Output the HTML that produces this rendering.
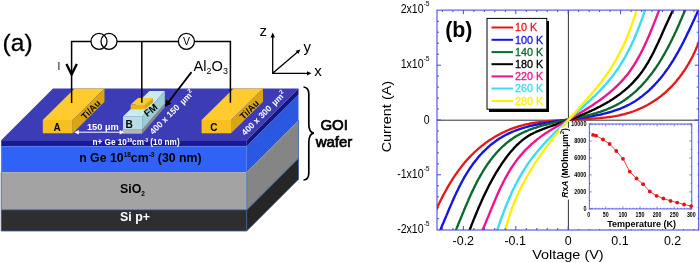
<!DOCTYPE html>
<html><head><meta charset="utf-8"><title>Figure</title>
<style>
html,body{margin:0;padding:0;background:#fff;}
svg{display:block;font-family:"Liberation Sans",Arial,sans-serif;}
</style></head><body>
<svg width="700" height="263" viewBox="0 0 700 263">
<rect width="700" height="263" fill="#fff"/>
<!-- ================= (a) device ================= -->
<g id="device">
<!-- top surface -->
<polygon points="1.2,140.2 246.7,140.2 298.5,88.5 53,88.5" fill="#3c3cb6"/>
<!-- front layers -->
<rect x="1.2" y="140.2" width="245.5" height="6.2" fill="#18189a"/>
<rect x="1.2" y="146.4" width="245.5" height="25.8" fill="#3062f8"/>
<rect x="1.2" y="172.2" width="245.5" height="37.8" fill="#a3a3a3"/>
<rect x="1.2" y="210" width="245.5" height="21" fill="#2e2e2e"/>
<!-- right side layers -->
<polygon points="246.7,140.2 298.5,88.5 298.5,94.7 246.7,146.4" fill="#141482"/>
<polygon points="246.7,146.4 298.5,94.7 298.5,120.5 246.7,172.2" fill="#2a58e0"/>
<polygon points="246.7,172.2 298.5,120.5 298.5,158.3 246.7,210" fill="#858585"/>
<polygon points="246.7,210 298.5,158.3 298.5,179.3 246.7,231" fill="#262626"/>
<path d="M1.2,172.2V231H246.7L298.5,179.3V120.5" fill="none" stroke="#3560a8" stroke-width="0.8"/>
<path d="M246.7,172.2V231" fill="none" stroke="#3560a8" stroke-width="0.6"/>
<path d="M1.2,209.8H246.7L298.5,158.1" fill="none" stroke="#3a6ab0" stroke-width="0.9"/>

<!-- electrode A -->
<polygon points="42.8,120 72.7,120 104.5,88.5 74.6,88.5" fill="#ffcb2e"/>
<rect x="42.8" y="120" width="29.9" height="13.3" fill="#f7bf1f"/>
<polygon points="72.7,120 104.5,88.5 104.5,101.8 72.7,133.3" fill="#d9a416"/>
<!-- electrode C -->
<polygon points="201.6,120 231,120 263,88.5 233.6,88.5" fill="#ffcb2e"/>
<rect x="201.6" y="120" width="29.4" height="13.3" fill="#f7bf1f"/>
<polygon points="231,120 263,88.5 263,101.8 231,133.3" fill="#d9a416"/>
<!-- Al2O3 + FM block B -->
<rect x="122.2" y="129.6" width="20" height="4.1" fill="#b5b5b5"/>
<polygon points="142.2,129.6 164.8,103.6 164.8,107.2 142.2,133.7" fill="#8a8a8a"/>
<polygon points="123,116.4 142.2,116.4 164.8,90.9 149.5,90.9" fill="#cbecef"/>
<rect x="123" y="116.4" width="19.2" height="13.2" fill="#b5dfe5"/>
<polygon points="142.2,116.4 164.8,90.9 164.8,103.6 142.2,129.6" fill="#9ccdd4"/>
<!-- small contact -->
<polygon points="130.7,104.6 144.9,104.6 153,98 138,98" fill="#ffcb2e"/>
<rect x="130.7" y="104.6" width="14.2" height="4.8" fill="#f0b40f"/>
<polygon points="144.9,104.6 153,98 153,102.4 144.9,109.4" fill="#d9a416"/>

<!-- wires -->
<path d="M71.6,103V41.4H91M117,41.4H178.4M194.4,41.4H230.4V102.8M141.8,41.4V102.8" fill="none" stroke="#000" stroke-width="1.5"/>
<circle cx="99" cy="41.4" r="8" fill="none" stroke="#000" stroke-width="1.25"/>
<circle cx="109" cy="41.4" r="8" fill="none" stroke="#000" stroke-width="1.25"/>
<circle cx="186.4" cy="41.4" r="8" fill="#fff" stroke="#000" stroke-width="1.25"/>
<text x="186.4" y="45.3" font-size="10.5" text-anchor="middle">V</text>
<!-- current arrow -->
<path d="M66.4,64L71.6,74.5L76.8,64" fill="none" stroke="#000" stroke-width="2.4"/>
<text x="57.5" y="70" font-size="10">I</text>
<!-- Al2O3 label -->
<text x="193.6" y="70.7" font-size="14.6">Al<tspan font-size="9" dy="3.4">2</tspan><tspan dy="-3.4">O</tspan><tspan font-size="9" dy="3.4">3</tspan></text>
<path d="M191.5,72.1L168,102.8" stroke="#000" stroke-width="1.8"/>
<polygon points="164.9,106.8 166,99.6 171.4,103.8" fill="#000"/>
<!-- axes -->
<path d="M272.7,34V73.3H309M272.7,73.3L298.5,51.2" fill="none" stroke="#000" stroke-width="1.3"/>
<polygon points="272.7,32.6 270.5,37.4 274.9,37.4" fill="#000"/>
<polygon points="311.5,73.3 307,71.2 307,75.4" fill="#000"/>
<polygon points="300.4,49.6 295.6,50.8 298.4,54" fill="#000"/>
<text x="259.5" y="35.5" font-size="15">z</text>
<text x="303.5" y="52" font-size="15">y</text>
<text x="314.3" y="76" font-size="15">x</text>
<!-- brace -->
<path d="M303.5,87C307.5,87.3 308.8,89.5 308.8,94V124C308.8,129.5 310,132.5 313.8,133.2C310,133.9 308.8,137 308.8,142.5V173C308.8,177.5 307.5,179.7 303.5,180" fill="none" stroke="#000" stroke-width="1.7"/>
<text x="320.4" y="130.2" font-size="15" stroke="#000" stroke-width="0.7">GOI</text>
<text x="315.7" y="146.9" font-size="15" stroke="#000" stroke-width="0.7">wafer</text>

<!-- labels on device -->
<text x="57" y="131.3" font-size="10" font-weight="bold" text-anchor="middle">A</text>
<text x="129.3" y="128.3" font-size="10.2" font-weight="bold" text-anchor="middle">B</text>
<text x="213.9" y="130.7" font-size="10" font-weight="bold" text-anchor="middle">C</text>
<text transform="translate(85,120) rotate(-45)" font-size="9.2" font-weight="bold">Ti/Au</text>
<text transform="translate(243.5,120) rotate(-45)" font-size="9.2" font-weight="bold">Ti/Au</text>
<text transform="translate(147.3,117.3) rotate(-39)" font-size="9.8" font-weight="bold">FM</text>
<text x="102.8" y="129.6" font-size="9.3" font-weight="bold" fill="#fff" text-anchor="middle">150 µm</text>
<path d="M77,132.2H122" stroke="#fff" stroke-width="1"/>
<polygon points="74.2,132.2 78.8,130 78.8,134.4" fill="#fff"/>
<polygon points="124.2,132.2 119.6,130 119.6,134.4" fill="#fff"/>
<text transform="translate(153.2,135) rotate(-45)" font-size="8.6" font-weight="bold" fill="#fff">400 x 150  <tspan dx="1.8">µm</tspan><tspan font-size="6" dy="-3.5">2</tspan></text>
<text transform="translate(245,136) rotate(-45)" font-size="8.6" font-weight="bold" fill="#fff">400 x 300  <tspan dx="1.8">µm</tspan><tspan font-size="6" dy="-3.5">2</tspan></text>
<text transform="translate(92.4,145.1) scale(0.96,1)" font-size="8.6" font-weight="bold" fill="#fff">n+ Ge 10<tspan font-size="4.8" dy="-3.6">19</tspan><tspan dy="3.6">cm</tspan><tspan font-size="4.8" dy="-3.6">-3</tspan><tspan dy="3.6"> (10 nm)</tspan></text>
<text x="79.2" y="162.4" font-size="12.3" font-weight="bold">n Ge 10<tspan font-size="6.5" dy="-5.2">18</tspan><tspan dy="5.2">cm</tspan><tspan font-size="6.5" dy="-5.2">-3</tspan><tspan dy="5.2"> (30 nm)</tspan></text>
<text x="120" y="192.7" font-size="12.4" font-weight="bold">SiO<tspan font-size="6.5" dy="3.6">2</tspan></text>
<text x="120" y="221.3" font-size="12.4" font-weight="bold" fill="#fff">Si p+</text>
<text x="2.6" y="51.2" font-size="24.5" stroke="#000" stroke-width="0.3">(a)</text>
</g>

<!-- ================= (b) plot ================= -->
<g id="plot">
<path d="M568.4,10.1V230M437,120.2H698.7" stroke="#333" stroke-width="1"/>
<clipPath id="cp"><rect x="437" y="10.1" width="261.70000000000005" height="219.9"/></clipPath>
<g clip-path="url(#cp)">
<path d="M700.3,37.4 L699.9,38.8 L699.4,40.2 L698.9,41.5 L698.5,42.9 L697.9,44.2 L697.4,45.6 L696.9,46.9 L696.3,48.2 L695.7,49.6 L695.2,50.9 L694.6,52.2 L693.9,53.5 L693.3,54.9 L692.7,56.2 L692.0,57.5 L691.3,58.8 L690.6,60.1 L689.9,61.4 L689.2,62.6 L688.5,63.9 L687.7,65.2 L686.9,66.4 L686.2,67.7 L685.4,68.9 L684.6,70.1 L683.8,71.3 L682.9,72.5 L682.1,73.7 L681.2,74.9 L680.3,76.1 L679.5,77.3 L678.6,78.4 L677.6,79.5 L676.7,80.7 L675.8,81.8 L674.8,82.9 L673.9,84.0 L672.9,85.0 L671.9,86.1 L670.9,87.1 L669.9,88.2 L668.8,89.2 L667.8,90.2 L666.7,91.1 L665.7,92.1 L664.6,93.1 L663.5,94.0 L662.4,94.9 L661.3,95.8 L660.2,96.7 L659.0,97.5 L657.9,98.4 L656.7,99.2 L655.6,100.0 L654.4,100.8 L653.2,101.6 L652.0,102.3 L650.8,103.1 L649.6,103.8 L648.3,104.5 L647.1,105.2 L645.9,105.8 L644.6,106.5 L643.3,107.1 L642.1,107.7 L640.8,108.3 L639.5,108.9 L638.2,109.4 L636.9,110.0 L635.6,110.5 L634.3,111.0 L632.9,111.5 L631.6,111.9 L630.3,112.4 L628.9,112.8 L627.6,113.2 L626.2,113.6 L624.8,114.0 L623.4,114.3 L622.1,114.6 L620.7,115.0 L619.3,115.3 L617.9,115.6 L616.5,115.8 L615.1,116.1 L613.7,116.3 L612.2,116.6 L610.8,116.8 L609.4,117.0 L608.0,117.2 L606.5,117.4 L605.1,117.6 L603.6,117.7 L602.2,117.9 L600.7,118.0 L599.3,118.2 L597.8,118.3 L596.4,118.4 L594.9,118.5 L593.4,118.6 L592.0,118.7 L590.5,118.8 L589.0,118.9 L587.5,119.0 L586.1,119.1 L584.6,119.2 L583.1,119.2 L581.6,119.3 L580.1,119.4 L578.7,119.4 L577.2,119.5 L575.7,119.6 L574.2,119.6 L572.7,119.7 L571.2,119.7 L569.8,119.8 L568.3,119.9 L566.8,119.9 L565.3,120.0 L563.8,120.1 L562.4,120.1 L560.9,120.2 L559.4,120.3 L557.9,120.4 L556.4,120.5 L555.0,120.6 L553.5,120.7 L552.0,120.8 L550.6,120.9 L549.1,121.0 L547.7,121.1 L546.2,121.3 L544.7,121.4 L543.3,121.6 L541.8,121.8 L540.4,121.9 L539.0,122.1 L537.5,122.3 L536.1,122.5 L534.7,122.8 L533.2,123.0 L531.8,123.2 L530.4,123.5 L529.0,123.8 L527.6,124.1 L526.2,124.4 L524.8,124.7 L523.4,125.1 L522.1,125.4 L520.7,125.8 L519.3,126.2 L518.0,126.6 L516.6,127.0 L515.3,127.5 L513.9,127.9 L512.6,128.4 L511.3,128.9 L509.9,129.4 L508.6,130.0 L507.3,130.5 L506.0,131.1 L504.7,131.7 L503.5,132.3 L502.2,132.9 L500.9,133.5 L499.7,134.2 L498.4,134.9 L497.2,135.5 L495.9,136.2 L494.7,137.0 L493.5,137.7 L492.3,138.5 L491.1,139.2 L489.9,140.0 L488.7,140.8 L487.5,141.6 L486.4,142.4 L485.2,143.3 L484.1,144.1 L483.0,145.0 L481.8,145.9 L480.7,146.8 L479.6,147.7 L478.5,148.6 L477.4,149.6 L476.4,150.5 L475.3,151.5 L474.2,152.5 L473.2,153.5 L472.2,154.5 L471.2,155.5 L470.1,156.6 L469.2,157.6 L468.2,158.7 L467.2,159.7 L466.2,160.8 L465.3,161.9 L464.3,163.0 L463.4,164.2 L462.5,165.3 L461.6,166.5 L460.7,167.6 L459.8,168.8 L458.9,169.9 L458.1,171.1 L457.2,172.3 L456.4,173.5 L455.5,174.7 L454.7,175.9 L453.9,177.2 L453.1,178.4 L452.3,179.6 L451.5,180.9 L450.7,182.1 L450.0,183.4 L449.2,184.6 L448.5,185.9 L447.7,187.2 L447.0,188.4 L446.3,189.7 L445.6,191.0 L444.9,192.3 L444.2,193.5 L443.5,194.8 L442.8,196.1 L442.2,197.4 L441.5,198.7 L440.8,200.0 L440.2,201.2 L439.6,202.5 L438.9,203.8 L438.3,205.1 L437.7,206.4 L437.1,207.6 L436.5,208.9 L435.9,210.2 L435.4,211.4 L434.8,212.7 L434.2,214.0" fill="none" stroke="#e41a1a" stroke-width="2.35" stroke-linejoin="round"/>
<path d="M701.2,4.2 L700.5,5.6 L699.9,6.9 L699.3,8.2 L698.7,9.6 L698.1,10.9 L697.4,12.3 L696.8,13.6 L696.2,15.0 L695.5,16.4 L694.9,17.8 L694.3,19.2 L693.6,20.6 L693.0,22.0 L692.3,23.4 L691.7,24.8 L691.0,26.2 L690.3,27.7 L689.7,29.1 L689.0,30.5 L688.3,31.9 L687.6,33.4 L686.9,34.8 L686.2,36.2 L685.5,37.7 L684.8,39.1 L684.1,40.5 L683.4,42.0 L682.7,43.4 L681.9,44.8 L681.2,46.2 L680.4,47.7 L679.6,49.1 L678.9,50.5 L678.1,51.9 L677.3,53.3 L676.5,54.7 L675.7,56.1 L674.9,57.5 L674.0,58.9 L673.2,60.3 L672.3,61.7 L671.4,63.0 L670.6,64.4 L669.7,65.7 L668.8,67.1 L667.9,68.4 L666.9,69.7 L666.0,71.0 L665.0,72.3 L664.1,73.6 L663.1,74.9 L662.1,76.2 L661.1,77.4 L660.1,78.7 L659.0,79.9 L658.0,81.1 L656.9,82.3 L655.8,83.5 L654.7,84.7 L653.6,85.8 L652.5,86.9 L651.4,88.1 L650.2,89.2 L649.1,90.3 L647.9,91.3 L646.7,92.4 L645.5,93.4 L644.3,94.4 L643.1,95.4 L641.9,96.4 L640.6,97.3 L639.3,98.2 L638.1,99.1 L636.8,100.0 L635.5,100.9 L634.2,101.7 L632.8,102.5 L631.5,103.3 L630.2,104.0 L628.8,104.7 L627.4,105.4 L626.0,106.1 L624.6,106.8 L623.2,107.4 L621.8,108.0 L620.4,108.6 L618.9,109.1 L617.5,109.7 L616.0,110.2 L614.5,110.7 L613.1,111.2 L611.6,111.7 L610.1,112.1 L608.6,112.5 L607.0,112.9 L605.5,113.3 L604.0,113.7 L602.5,114.1 L600.9,114.5 L599.4,114.8 L597.8,115.1 L596.3,115.4 L594.7,115.7 L593.1,116.0 L591.5,116.3 L590.0,116.6 L588.4,116.9 L586.8,117.1 L585.2,117.4 L583.6,117.6 L582.0,117.8 L580.4,118.1 L578.8,118.3 L577.2,118.5 L575.6,118.7 L574.0,119.0 L572.3,119.2 L570.7,119.4 L569.1,119.6 L567.5,119.8 L565.9,120.0 L564.3,120.2 L562.7,120.4 L561.0,120.6 L559.4,120.8 L557.8,121.1 L556.2,121.3 L554.6,121.5 L553.0,121.7 L551.4,122.0 L549.8,122.2 L548.2,122.5 L546.6,122.7 L545.0,123.0 L543.4,123.3 L541.9,123.5 L540.3,123.8 L538.7,124.1 L537.1,124.5 L535.6,124.8 L534.0,125.1 L532.5,125.5 L530.9,125.8 L529.4,126.2 L527.9,126.6 L526.4,127.0 L524.8,127.5 L523.3,127.9 L521.8,128.4 L520.4,128.9 L518.9,129.4 L517.4,129.9 L516.0,130.4 L514.5,131.0 L513.1,131.5 L511.7,132.1 L510.3,132.8 L508.9,133.4 L507.5,134.1 L506.1,134.8 L504.7,135.5 L503.4,136.2 L502.1,137.0 L500.8,137.8 L499.4,138.6 L498.2,139.4 L496.9,140.3 L495.6,141.2 L494.4,142.1 L493.2,143.0 L491.9,144.0 L490.7,144.9 L489.6,145.9 L488.4,147.0 L487.2,148.0 L486.1,149.1 L485.0,150.1 L483.8,151.3 L482.7,152.4 L481.7,153.5 L480.6,154.7 L479.5,155.8 L478.5,157.0 L477.5,158.2 L476.5,159.5 L475.5,160.7 L474.5,162.0 L473.5,163.3 L472.6,164.5 L471.7,165.8 L470.7,167.2 L469.8,168.5 L469.0,169.8 L468.1,171.2 L467.2,172.6 L466.4,173.9 L465.5,175.3 L464.7,176.7 L463.9,178.1 L463.1,179.6 L462.3,181.0 L461.6,182.4 L460.8,183.9 L460.1,185.3 L459.3,186.7 L458.6,188.2 L457.9,189.7 L457.2,191.1 L456.5,192.6 L455.8,194.1 L455.1,195.5 L454.4,197.0 L453.7,198.5 L453.1,200.0 L452.4,201.4 L451.8,202.9 L451.1,204.4 L450.5,205.9 L449.9,207.3 L449.2,208.8 L448.6,210.3 L448.0,211.7 L447.4,213.2 L446.8,214.6 L446.2,216.1 L445.6,217.5 L445.0,218.9 L444.4,220.3 L443.8,221.8 L443.2,223.2 L442.6,224.5 L442.0,225.9 L441.5,227.3 L440.9,228.7 L440.3,230.0 L439.7,231.3 L439.1,232.7 L438.5,234.0 L437.9,235.3" fill="none" stroke="#1414e6" stroke-width="2.35" stroke-linejoin="round"/>
<path d="M687.6,4.3 L687.0,5.6 L686.5,6.9 L685.9,8.2 L685.4,9.5 L684.8,10.8 L684.3,12.1 L683.7,13.4 L683.2,14.7 L682.6,16.0 L682.0,17.4 L681.5,18.7 L680.9,20.0 L680.3,21.3 L679.7,22.7 L679.2,24.0 L678.6,25.3 L678.0,26.7 L677.4,28.0 L676.8,29.3 L676.2,30.7 L675.6,32.0 L674.9,33.3 L674.3,34.7 L673.7,36.0 L673.0,37.3 L672.4,38.7 L671.7,40.0 L671.1,41.3 L670.4,42.6 L669.8,44.0 L669.1,45.3 L668.4,46.6 L667.7,47.9 L667.0,49.2 L666.3,50.5 L665.6,51.8 L664.9,53.1 L664.1,54.4 L663.4,55.7 L662.6,57.0 L661.9,58.3 L661.1,59.5 L660.3,60.8 L659.5,62.1 L658.8,63.3 L657.9,64.6 L657.1,65.8 L656.3,67.1 L655.5,68.3 L654.6,69.5 L653.7,70.7 L652.9,71.9 L652.0,73.1 L651.1,74.3 L650.2,75.5 L649.3,76.6 L648.3,77.8 L647.4,78.9 L646.4,80.1 L645.5,81.2 L644.5,82.3 L643.5,83.4 L642.5,84.5 L641.5,85.6 L640.5,86.7 L639.4,87.7 L638.4,88.7 L637.3,89.8 L636.2,90.8 L635.2,91.8 L634.1,92.7 L633.0,93.7 L631.8,94.6 L630.7,95.5 L629.6,96.4 L628.4,97.3 L627.2,98.2 L626.1,99.0 L624.9,99.9 L623.7,100.7 L622.5,101.5 L621.2,102.2 L620.0,103.0 L618.7,103.7 L617.5,104.4 L616.2,105.1 L614.9,105.7 L613.6,106.4 L612.3,107.0 L611.0,107.6 L609.7,108.2 L608.3,108.7 L607.0,109.3 L605.7,109.8 L604.3,110.3 L602.9,110.8 L601.5,111.3 L600.2,111.8 L598.8,112.2 L597.4,112.6 L596.0,113.1 L594.6,113.5 L593.1,113.9 L591.7,114.3 L590.3,114.7 L588.9,115.0 L587.4,115.4 L586.0,115.8 L584.5,116.1 L583.1,116.5 L581.6,116.8 L580.2,117.1 L578.7,117.4 L577.3,117.8 L575.8,118.1 L574.3,118.4 L572.9,118.7 L571.4,119.0 L569.9,119.3 L568.5,119.6 L567.0,119.9 L565.5,120.2 L564.1,120.5 L562.6,120.8 L561.1,121.1 L559.7,121.5 L558.2,121.8 L556.7,122.1 L555.3,122.4 L553.8,122.7 L552.4,123.1 L550.9,123.4 L549.5,123.8 L548.0,124.1 L546.6,124.5 L545.2,124.9 L543.7,125.2 L542.3,125.6 L540.9,126.0 L539.5,126.4 L538.1,126.9 L536.7,127.3 L535.3,127.8 L533.9,128.2 L532.6,128.7 L531.2,129.2 L529.8,129.7 L528.5,130.2 L527.2,130.8 L525.8,131.3 L524.5,131.9 L523.2,132.5 L521.9,133.1 L520.7,133.8 L519.4,134.4 L518.2,135.1 L516.9,135.8 L515.7,136.5 L514.5,137.3 L513.3,138.1 L512.1,138.9 L510.9,139.7 L509.8,140.5 L508.7,141.4 L507.5,142.3 L506.4,143.2 L505.3,144.1 L504.3,145.1 L503.2,146.0 L502.1,147.0 L501.1,148.0 L500.1,149.0 L499.0,150.1 L498.0,151.1 L497.1,152.2 L496.1,153.3 L495.1,154.4 L494.2,155.5 L493.2,156.6 L492.3,157.8 L491.4,158.9 L490.5,160.1 L489.6,161.3 L488.8,162.5 L487.9,163.7 L487.1,164.9 L486.2,166.2 L485.4,167.4 L484.6,168.7 L483.8,169.9 L483.0,171.2 L482.3,172.5 L481.5,173.8 L480.7,175.1 L480.0,176.4 L479.3,177.7 L478.5,179.0 L477.8,180.3 L477.1,181.6 L476.4,183.0 L475.8,184.3 L475.1,185.6 L474.4,187.0 L473.8,188.3 L473.1,189.7 L472.5,191.1 L471.8,192.4 L471.2,193.8 L470.6,195.1 L470.0,196.5 L469.3,197.9 L468.7,199.2 L468.2,200.6 L467.6,202.0 L467.0,203.3 L466.4,204.7 L465.8,206.1 L465.2,207.4 L464.7,208.8 L464.1,210.1 L463.6,211.5 L463.0,212.8 L462.4,214.2 L461.9,215.5 L461.3,216.8 L460.8,218.2 L460.3,219.5 L459.7,220.8 L459.2,222.1 L458.6,223.4 L458.1,224.7 L457.6,226.0 L457.0,227.3 L456.5,228.6 L456.0,229.8 L455.4,231.1 L454.9,232.3 L454.4,233.6 L453.8,234.8" fill="none" stroke="#0a6a2a" stroke-width="2.35" stroke-linejoin="round"/>
<path d="M675.5,5.7 L674.9,6.8 L674.3,7.8 L673.7,8.9 L673.2,10.0 L672.6,11.1 L672.0,12.2 L671.5,13.3 L670.9,14.4 L670.4,15.6 L669.8,16.7 L669.3,17.9 L668.7,19.1 L668.2,20.3 L667.6,21.5 L667.1,22.7 L666.5,23.9 L666.0,25.1 L665.4,26.3 L664.9,27.6 L664.3,28.8 L663.8,30.1 L663.2,31.3 L662.6,32.6 L662.1,33.9 L661.5,35.1 L661.0,36.4 L660.4,37.7 L659.8,38.9 L659.2,40.2 L658.7,41.5 L658.1,42.8 L657.5,44.0 L656.9,45.3 L656.3,46.6 L655.7,47.9 L655.0,49.1 L654.4,50.4 L653.8,51.7 L653.2,52.9 L652.5,54.2 L651.9,55.4 L651.2,56.7 L650.5,57.9 L649.9,59.1 L649.2,60.3 L648.5,61.6 L647.8,62.8 L647.1,64.0 L646.3,65.1 L645.6,66.3 L644.9,67.5 L644.1,68.6 L643.3,69.8 L642.6,70.9 L641.8,72.0 L641.0,73.1 L640.1,74.2 L639.3,75.3 L638.5,76.3 L637.6,77.4 L636.7,78.4 L635.8,79.4 L634.9,80.4 L634.0,81.4 L633.1,82.4 L632.2,83.3 L631.2,84.3 L630.3,85.2 L629.3,86.1 L628.3,87.1 L627.4,87.9 L626.4,88.8 L625.4,89.7 L624.3,90.6 L623.3,91.4 L622.3,92.2 L621.2,93.1 L620.2,93.9 L619.1,94.7 L618.0,95.4 L616.9,96.2 L615.8,97.0 L614.7,97.7 L613.6,98.5 L612.5,99.2 L611.3,99.9 L610.2,100.7 L609.1,101.4 L607.9,102.1 L606.8,102.7 L605.6,103.4 L604.4,104.1 L603.2,104.7 L602.0,105.4 L600.8,106.0 L599.6,106.7 L598.4,107.3 L597.2,107.9 L596.0,108.5 L594.8,109.1 L593.6,109.7 L592.3,110.3 L591.1,110.9 L589.8,111.4 L588.6,112.0 L587.3,112.5 L586.1,113.1 L584.8,113.6 L583.5,114.2 L582.3,114.7 L581.0,115.2 L579.7,115.7 L578.5,116.3 L577.2,116.8 L575.9,117.3 L574.6,117.8 L573.3,118.3 L572.0,118.8 L570.7,119.2 L569.4,119.7 L568.1,120.2 L566.8,120.7 L565.5,121.1 L564.2,121.6 L562.9,122.1 L561.6,122.5 L560.3,123.0 L559.0,123.4 L557.7,123.9 L556.4,124.3 L555.1,124.8 L553.8,125.2 L552.5,125.6 L551.2,126.1 L549.9,126.5 L548.6,127.0 L547.3,127.4 L546.1,127.9 L544.8,128.3 L543.5,128.8 L542.2,129.3 L541.0,129.8 L539.7,130.3 L538.5,130.8 L537.2,131.3 L536.0,131.9 L534.8,132.5 L533.6,133.0 L532.4,133.7 L531.2,134.3 L530.1,134.9 L528.9,135.6 L527.8,136.3 L526.7,137.1 L525.6,137.8 L524.5,138.6 L523.4,139.4 L522.4,140.2 L521.3,141.1 L520.3,142.0 L519.3,142.9 L518.3,143.8 L517.3,144.7 L516.3,145.7 L515.4,146.7 L514.4,147.6 L513.5,148.7 L512.6,149.7 L511.7,150.7 L510.8,151.8 L509.9,152.8 L509.0,153.9 L508.1,155.0 L507.3,156.1 L506.4,157.2 L505.6,158.3 L504.8,159.5 L504.0,160.6 L503.2,161.7 L502.4,162.9 L501.6,164.0 L500.9,165.2 L500.1,166.4 L499.4,167.5 L498.6,168.7 L497.9,169.9 L497.2,171.0 L496.4,172.2 L495.7,173.4 L495.0,174.6 L494.3,175.8 L493.7,177.0 L493.0,178.1 L492.3,179.3 L491.7,180.5 L491.0,181.7 L490.4,182.9 L489.7,184.1 L489.1,185.3 L488.5,186.5 L487.9,187.8 L487.3,189.0 L486.7,190.2 L486.1,191.4 L485.5,192.6 L484.9,193.9 L484.3,195.1 L483.7,196.3 L483.1,197.5 L482.6,198.8 L482.0,200.0 L481.5,201.2 L480.9,202.5 L480.4,203.7 L479.8,205.0 L479.3,206.2 L478.7,207.5 L478.2,208.7 L477.7,210.0 L477.1,211.2 L476.6,212.5 L476.1,213.8 L475.6,215.0 L475.1,216.3 L474.6,217.5 L474.0,218.8 L473.5,220.1 L473.0,221.4 L472.5,222.6 L472.0,223.9 L471.5,225.2 L471.0,226.5 L470.5,227.8 L470.0,229.0 L469.5,230.3 L469.0,231.6 L468.6,232.9 L468.1,234.2 L467.6,235.5" fill="none" stroke="#000000" stroke-width="2.35" stroke-linejoin="round"/>
<path d="M661.1,5.3 L660.7,6.4 L660.2,7.5 L659.8,8.6 L659.4,9.7 L658.9,10.8 L658.5,11.9 L658.1,13.0 L657.6,14.1 L657.2,15.2 L656.7,16.4 L656.3,17.5 L655.9,18.6 L655.4,19.8 L655.0,20.9 L654.5,22.1 L654.0,23.3 L653.6,24.4 L653.1,25.6 L652.6,26.8 L652.2,27.9 L651.7,29.1 L651.2,30.3 L650.7,31.5 L650.2,32.6 L649.8,33.8 L649.3,35.0 L648.8,36.2 L648.2,37.4 L647.7,38.5 L647.2,39.7 L646.7,40.9 L646.2,42.1 L645.6,43.2 L645.1,44.4 L644.5,45.6 L644.0,46.8 L643.4,47.9 L642.9,49.1 L642.3,50.2 L641.7,51.4 L641.1,52.5 L640.5,53.7 L639.9,54.8 L639.3,56.0 L638.7,57.1 L638.1,58.2 L637.4,59.3 L636.8,60.4 L636.1,61.6 L635.5,62.7 L634.8,63.7 L634.1,64.8 L633.4,65.9 L632.7,67.0 L632.0,68.0 L631.3,69.1 L630.6,70.1 L629.9,71.1 L629.1,72.2 L628.4,73.2 L627.6,74.2 L626.8,75.2 L626.0,76.1 L625.2,77.1 L624.4,78.1 L623.6,79.0 L622.8,79.9 L621.9,80.9 L621.1,81.8 L620.2,82.7 L619.4,83.6 L618.5,84.5 L617.6,85.3 L616.7,86.2 L615.8,87.1 L614.9,87.9 L614.0,88.7 L613.1,89.6 L612.1,90.4 L611.2,91.2 L610.2,92.0 L609.3,92.8 L608.3,93.6 L607.3,94.4 L606.4,95.2 L605.4,96.0 L604.4,96.7 L603.4,97.5 L602.4,98.2 L601.4,99.0 L600.4,99.7 L599.4,100.5 L598.3,101.2 L597.3,101.9 L596.3,102.6 L595.2,103.3 L594.2,104.0 L593.1,104.7 L592.1,105.4 L591.0,106.1 L590.0,106.8 L588.9,107.5 L587.8,108.2 L586.8,108.9 L585.7,109.5 L584.6,110.2 L583.5,110.9 L582.4,111.5 L581.3,112.2 L580.3,112.8 L579.2,113.5 L578.1,114.1 L577.0,114.8 L575.9,115.4 L574.8,116.1 L573.7,116.7 L572.6,117.4 L571.5,118.0 L570.4,118.6 L569.3,119.3 L568.2,119.9 L567.1,120.5 L566.0,121.2 L564.9,121.8 L563.8,122.4 L562.7,123.1 L561.6,123.7 L560.5,124.3 L559.4,125.0 L558.3,125.6 L557.2,126.3 L556.1,126.9 L555.0,127.5 L553.9,128.2 L552.8,128.8 L551.7,129.5 L550.6,130.1 L549.6,130.8 L548.5,131.5 L547.4,132.2 L546.4,132.8 L545.3,133.5 L544.3,134.2 L543.3,134.9 L542.2,135.6 L541.2,136.4 L540.2,137.1 L539.2,137.9 L538.2,138.6 L537.2,139.4 L536.3,140.2 L535.3,141.0 L534.3,141.8 L533.4,142.6 L532.4,143.4 L531.5,144.2 L530.6,145.1 L529.7,145.9 L528.8,146.8 L527.9,147.6 L527.0,148.5 L526.1,149.4 L525.2,150.3 L524.4,151.2 L523.5,152.1 L522.7,153.1 L521.9,154.0 L521.1,154.9 L520.2,155.9 L519.5,156.9 L518.7,157.8 L517.9,158.8 L517.1,159.8 L516.4,160.8 L515.6,161.8 L514.9,162.8 L514.1,163.9 L513.4,164.9 L512.7,165.9 L512.0,167.0 L511.3,168.0 L510.6,169.1 L510.0,170.2 L509.3,171.3 L508.6,172.4 L508.0,173.5 L507.4,174.6 L506.7,175.7 L506.1,176.8 L505.5,177.9 L504.9,179.0 L504.3,180.2 L503.7,181.3 L503.1,182.5 L502.6,183.6 L502.0,184.7 L501.4,185.9 L500.9,187.1 L500.3,188.2 L499.8,189.4 L499.2,190.6 L498.7,191.7 L498.2,192.9 L497.6,194.1 L497.1,195.2 L496.6,196.4 L496.1,197.6 L495.6,198.8 L495.1,200.0 L494.6,201.1 L494.1,202.3 L493.6,203.5 L493.1,204.7 L492.6,205.9 L492.1,207.0 L491.6,208.2 L491.2,209.4 L490.7,210.6 L490.2,211.7 L489.7,212.9 L489.2,214.1 L488.8,215.2 L488.3,216.4 L487.8,217.5 L487.3,218.7 L486.8,219.8 L486.4,221.0 L485.9,222.1 L485.4,223.3 L484.9,224.4 L484.5,225.5 L484.0,226.6 L483.5,227.8 L483.0,228.9 L482.5,230.0 L482.0,231.1 L481.5,232.1 L481.0,233.2 L480.5,234.3" fill="none" stroke="#f0128c" stroke-width="2.35" stroke-linejoin="round"/>
<path d="M646.9,4.5 L646.5,5.7 L646.1,6.8 L645.8,7.9 L645.4,9.0 L645.0,10.1 L644.7,11.2 L644.3,12.4 L643.9,13.5 L643.5,14.6 L643.1,15.7 L642.7,16.8 L642.3,17.9 L641.9,19.0 L641.5,20.2 L641.1,21.3 L640.7,22.4 L640.3,23.5 L639.9,24.6 L639.5,25.7 L639.0,26.8 L638.6,27.9 L638.2,29.0 L637.7,30.1 L637.3,31.2 L636.8,32.3 L636.4,33.4 L635.9,34.5 L635.5,35.6 L635.0,36.7 L634.5,37.8 L634.1,38.9 L633.6,40.0 L633.1,41.0 L632.6,42.1 L632.1,43.2 L631.6,44.3 L631.1,45.3 L630.6,46.4 L630.1,47.5 L629.5,48.5 L629.0,49.6 L628.5,50.6 L627.9,51.7 L627.4,52.7 L626.8,53.7 L626.3,54.8 L625.7,55.8 L625.2,56.8 L624.6,57.9 L624.0,58.9 L623.4,59.9 L622.8,60.9 L622.2,61.9 L621.6,62.9 L621.0,63.9 L620.4,64.9 L619.7,65.9 L619.1,66.9 L618.5,67.8 L617.8,68.8 L617.2,69.8 L616.5,70.7 L615.8,71.7 L615.2,72.6 L614.5,73.5 L613.8,74.5 L613.1,75.4 L612.4,76.3 L611.7,77.2 L610.9,78.1 L610.2,79.0 L609.5,79.9 L608.7,80.8 L608.0,81.7 L607.2,82.6 L606.5,83.5 L605.7,84.3 L604.9,85.2 L604.2,86.1 L603.4,86.9 L602.6,87.8 L601.8,88.6 L601.0,89.5 L600.2,90.3 L599.4,91.1 L598.6,92.0 L597.8,92.8 L596.9,93.6 L596.1,94.5 L595.3,95.3 L594.5,96.1 L593.6,96.9 L592.8,97.7 L591.9,98.5 L591.1,99.3 L590.3,100.1 L589.4,100.9 L588.5,101.7 L587.7,102.5 L586.8,103.3 L586.0,104.1 L585.1,104.9 L584.2,105.7 L583.4,106.5 L582.5,107.3 L581.6,108.1 L580.8,108.9 L579.9,109.6 L579.0,110.4 L578.2,111.2 L577.3,112.0 L576.4,112.8 L575.5,113.6 L574.7,114.3 L573.8,115.1 L572.9,115.9 L572.0,116.7 L571.2,117.5 L570.3,118.3 L569.4,119.1 L568.5,119.8 L567.7,120.6 L566.8,121.4 L565.9,122.2 L565.1,123.0 L564.2,123.8 L563.3,124.6 L562.5,125.4 L561.6,126.2 L560.8,127.0 L559.9,127.8 L559.1,128.6 L558.2,129.4 L557.4,130.2 L556.5,131.1 L555.7,131.9 L554.8,132.7 L554.0,133.5 L553.2,134.3 L552.4,135.2 L551.5,136.0 L550.7,136.8 L549.9,137.7 L549.1,138.5 L548.3,139.3 L547.5,140.2 L546.7,141.0 L545.9,141.9 L545.1,142.7 L544.3,143.6 L543.5,144.5 L542.7,145.3 L541.9,146.2 L541.2,147.1 L540.4,147.9 L539.6,148.8 L538.9,149.7 L538.1,150.6 L537.4,151.5 L536.6,152.4 L535.9,153.3 L535.2,154.2 L534.4,155.1 L533.7,156.0 L533.0,156.9 L532.3,157.8 L531.6,158.8 L530.9,159.7 L530.2,160.6 L529.5,161.6 L528.9,162.5 L528.2,163.5 L527.5,164.4 L526.9,165.4 L526.2,166.4 L525.6,167.3 L524.9,168.3 L524.3,169.3 L523.7,170.3 L523.1,171.3 L522.5,172.3 L521.9,173.3 L521.3,174.3 L520.7,175.3 L520.1,176.3 L519.5,177.3 L518.9,178.4 L518.4,179.4 L517.8,180.4 L517.3,181.5 L516.7,182.5 L516.2,183.5 L515.6,184.6 L515.1,185.6 L514.6,186.7 L514.1,187.7 L513.5,188.8 L513.0,189.9 L512.5,190.9 L512.0,192.0 L511.5,193.1 L511.0,194.2 L510.6,195.2 L510.1,196.3 L509.6,197.4 L509.1,198.5 L508.7,199.6 L508.2,200.7 L507.7,201.7 L507.3,202.8 L506.8,203.9 L506.4,205.0 L505.9,206.1 L505.5,207.2 L505.1,208.3 L504.6,209.4 L504.2,210.5 L503.8,211.6 L503.4,212.8 L503.0,213.9 L502.6,215.0 L502.1,216.1 L501.7,217.2 L501.3,218.3 L500.9,219.4 L500.5,220.5 L500.1,221.6 L499.8,222.7 L499.4,223.8 L499.0,225.0 L498.6,226.1 L498.2,227.2 L497.8,228.3 L497.5,229.4 L497.1,230.5 L496.7,231.6 L496.4,232.7 L496.0,233.8 L495.6,234.9" fill="none" stroke="#38dcf8" stroke-width="2.35" stroke-linejoin="round"/>
<path d="M638.0,4.6 L637.7,5.7 L637.4,6.8 L637.1,7.9 L636.8,9.0 L636.5,10.1 L636.2,11.2 L635.9,12.3 L635.5,13.4 L635.2,14.5 L634.9,15.6 L634.5,16.7 L634.2,17.8 L633.8,18.9 L633.5,20.0 L633.1,21.1 L632.7,22.1 L632.4,23.2 L632.0,24.3 L631.6,25.4 L631.2,26.4 L630.8,27.5 L630.4,28.6 L630.0,29.7 L629.6,30.7 L629.2,31.8 L628.8,32.8 L628.4,33.9 L628.0,35.0 L627.6,36.0 L627.1,37.1 L626.7,38.1 L626.2,39.1 L625.8,40.2 L625.3,41.2 L624.9,42.2 L624.4,43.3 L623.9,44.3 L623.5,45.3 L623.0,46.4 L622.5,47.4 L622.0,48.4 L621.5,49.4 L621.0,50.4 L620.5,51.4 L620.0,52.4 L619.5,53.4 L619.0,54.4 L618.4,55.4 L617.9,56.4 L617.4,57.4 L616.8,58.3 L616.3,59.3 L615.7,60.3 L615.1,61.3 L614.6,62.2 L614.0,63.2 L613.4,64.2 L612.8,65.1 L612.3,66.1 L611.7,67.0 L611.1,68.0 L610.5,68.9 L609.9,69.8 L609.2,70.8 L608.6,71.7 L608.0,72.6 L607.4,73.5 L606.7,74.5 L606.1,75.4 L605.4,76.3 L604.8,77.2 L604.1,78.1 L603.4,79.0 L602.8,79.9 L602.1,80.8 L601.4,81.7 L600.7,82.6 L600.1,83.5 L599.4,84.3 L598.7,85.2 L598.0,86.1 L597.3,87.0 L596.6,87.8 L595.9,88.7 L595.1,89.6 L594.4,90.4 L593.7,91.3 L593.0,92.2 L592.3,93.0 L591.5,93.9 L590.8,94.7 L590.1,95.6 L589.3,96.5 L588.6,97.3 L587.9,98.2 L587.1,99.0 L586.4,99.8 L585.6,100.7 L584.9,101.5 L584.1,102.4 L583.4,103.2 L582.7,104.1 L581.9,104.9 L581.1,105.8 L580.4,106.6 L579.6,107.4 L578.9,108.3 L578.1,109.1 L577.4,110.0 L576.6,110.8 L575.9,111.6 L575.1,112.5 L574.4,113.3 L573.6,114.2 L572.9,115.0 L572.1,115.9 L571.4,116.7 L570.6,117.5 L569.9,118.4 L569.1,119.2 L568.4,120.1 L567.6,120.9 L566.9,121.8 L566.1,122.6 L565.4,123.5 L564.6,124.3 L563.9,125.2 L563.2,126.1 L562.4,126.9 L561.7,127.8 L561.0,128.6 L560.3,129.5 L559.5,130.4 L558.8,131.2 L558.1,132.1 L557.4,133.0 L556.7,133.8 L555.9,134.7 L555.2,135.6 L554.5,136.5 L553.8,137.4 L553.1,138.2 L552.4,139.1 L551.7,140.0 L551.0,140.9 L550.3,141.8 L549.7,142.7 L549.0,143.6 L548.3,144.5 L547.6,145.4 L546.9,146.3 L546.3,147.2 L545.6,148.1 L544.9,149.0 L544.3,149.9 L543.6,150.8 L542.9,151.7 L542.3,152.6 L541.6,153.5 L541.0,154.5 L540.3,155.4 L539.7,156.3 L539.1,157.2 L538.4,158.1 L537.8,159.1 L537.2,160.0 L536.6,160.9 L535.9,161.9 L535.3,162.8 L534.7,163.8 L534.1,164.7 L533.5,165.6 L532.9,166.6 L532.3,167.5 L531.7,168.5 L531.1,169.5 L530.5,170.4 L530.0,171.4 L529.4,172.3 L528.8,173.3 L528.3,174.3 L527.7,175.2 L527.1,176.2 L526.6,177.2 L526.0,178.2 L525.5,179.2 L525.0,180.1 L524.4,181.1 L523.9,182.1 L523.4,183.1 L522.8,184.1 L522.3,185.1 L521.8,186.1 L521.3,187.1 L520.8,188.1 L520.3,189.1 L519.8,190.1 L519.3,191.1 L518.8,192.2 L518.4,193.2 L517.9,194.2 L517.4,195.2 L517.0,196.3 L516.5,197.3 L516.1,198.3 L515.6,199.4 L515.2,200.4 L514.7,201.4 L514.3,202.5 L513.9,203.5 L513.5,204.6 L513.1,205.7 L512.6,206.7 L512.2,207.8 L511.8,208.8 L511.5,209.9 L511.1,211.0 L510.7,212.1 L510.3,213.1 L510.0,214.2 L509.6,215.3 L509.2,216.4 L508.9,217.5 L508.6,218.6 L508.2,219.7 L507.9,220.8 L507.6,221.9 L507.2,223.0 L506.9,224.1 L506.6,225.2 L506.3,226.3 L506.0,227.5 L505.7,228.6 L505.5,229.7 L505.2,230.8 L504.9,232.0 L504.7,233.1 L504.4,234.3 L504.2,235.4" fill="none" stroke="#fff000" stroke-width="2.35" stroke-linejoin="round"/>

</g>
<rect x="437" y="10.1" width="261.70000000000005" height="219.9" fill="none" stroke="#4646e2" stroke-width="1.05"/>
<path d="M442.4,10.1v2M442.4,230v-2" stroke="#4646e2" stroke-width="1"/><path d="M452.9,10.1v2M452.9,230v-2" stroke="#4646e2" stroke-width="1"/><path d="M463.4,10.1v4M463.4,230v-4" stroke="#4646e2" stroke-width="1"/><path d="M473.9,10.1v2M473.9,230v-2" stroke="#4646e2" stroke-width="1"/><path d="M484.4,10.1v2M484.4,230v-2" stroke="#4646e2" stroke-width="1"/><path d="M494.8,10.1v2M494.8,230v-2" stroke="#4646e2" stroke-width="1"/><path d="M505.3,10.1v2M505.3,230v-2" stroke="#4646e2" stroke-width="1"/><path d="M515.8,10.1v4M515.8,230v-4" stroke="#4646e2" stroke-width="1"/><path d="M526.3,10.1v2M526.3,230v-2" stroke="#4646e2" stroke-width="1"/><path d="M536.8,10.1v2M536.8,230v-2" stroke="#4646e2" stroke-width="1"/><path d="M547.2,10.1v2M547.2,230v-2" stroke="#4646e2" stroke-width="1"/><path d="M557.7,10.1v2M557.7,230v-2" stroke="#4646e2" stroke-width="1"/><path d="M568.2,10.1v4M568.2,230v-4" stroke="#4646e2" stroke-width="1"/><path d="M578.7,10.1v2M578.7,230v-2" stroke="#4646e2" stroke-width="1"/><path d="M589.2,10.1v2M589.2,230v-2" stroke="#4646e2" stroke-width="1"/><path d="M599.6,10.1v2M599.6,230v-2" stroke="#4646e2" stroke-width="1"/><path d="M610.1,10.1v2M610.1,230v-2" stroke="#4646e2" stroke-width="1"/><path d="M620.6,10.1v4M620.6,230v-4" stroke="#4646e2" stroke-width="1"/><path d="M631.1,10.1v2M631.1,230v-2" stroke="#4646e2" stroke-width="1"/><path d="M641.6,10.1v2M641.6,230v-2" stroke="#4646e2" stroke-width="1"/><path d="M652.0,10.1v2M652.0,230v-2" stroke="#4646e2" stroke-width="1"/><path d="M662.5,10.1v2M662.5,230v-2" stroke="#4646e2" stroke-width="1"/><path d="M673.0,10.1v4M673.0,230v-4" stroke="#4646e2" stroke-width="1"/><path d="M683.5,10.1v2M683.5,230v-2" stroke="#4646e2" stroke-width="1"/><path d="M694.0,10.1v2M694.0,230v-2" stroke="#4646e2" stroke-width="1"/><path d="M437,218.7h2M698.7,218.7h-2" stroke="#4646e2" stroke-width="1"/><path d="M437,207.8h2M698.7,207.8h-2" stroke="#4646e2" stroke-width="1"/><path d="M437,196.8h2M698.7,196.8h-2" stroke="#4646e2" stroke-width="1"/><path d="M437,185.8h2M698.7,185.8h-2" stroke="#4646e2" stroke-width="1"/><path d="M437,174.8h4M698.7,174.8h-4" stroke="#4646e2" stroke-width="1"/><path d="M437,163.9h2M698.7,163.9h-2" stroke="#4646e2" stroke-width="1"/><path d="M437,152.9h2M698.7,152.9h-2" stroke="#4646e2" stroke-width="1"/><path d="M437,141.9h2M698.7,141.9h-2" stroke="#4646e2" stroke-width="1"/><path d="M437,131.0h2M698.7,131.0h-2" stroke="#4646e2" stroke-width="1"/><path d="M437,120.0h4M698.7,120.0h-4" stroke="#4646e2" stroke-width="1"/><path d="M437,109.0h2M698.7,109.0h-2" stroke="#4646e2" stroke-width="1"/><path d="M437,98.1h2M698.7,98.1h-2" stroke="#4646e2" stroke-width="1"/><path d="M437,87.1h2M698.7,87.1h-2" stroke="#4646e2" stroke-width="1"/><path d="M437,76.1h2M698.7,76.1h-2" stroke="#4646e2" stroke-width="1"/><path d="M437,65.2h4M698.7,65.2h-4" stroke="#4646e2" stroke-width="1"/><path d="M437,54.2h2M698.7,54.2h-2" stroke="#4646e2" stroke-width="1"/><path d="M437,43.2h2M698.7,43.2h-2" stroke="#4646e2" stroke-width="1"/><path d="M437,32.2h2M698.7,32.2h-2" stroke="#4646e2" stroke-width="1"/><path d="M437,21.3h2M698.7,21.3h-2" stroke="#4646e2" stroke-width="1"/>
<!-- legend -->
<rect x="489" y="21" width="60" height="91" fill="#000"/>
<rect x="487" y="18.4" width="59.8" height="90.8" fill="#fff" stroke="#000" stroke-width="1"/>
<path d="M491.5,27.5H513" stroke="#e41a1a" stroke-width="2"/><text x="515" y="31.4" font-size="10.8" fill="#e41a1a" stroke="#e41a1a" stroke-width="0.3">10 K</text>
<path d="M491.5,39.8H513" stroke="#1414e6" stroke-width="2"/><text x="515" y="43.699999999999996" font-size="10.8" fill="#1414e6" stroke="#1414e6" stroke-width="0.3">100 K</text>
<path d="M491.5,52.1H513" stroke="#0a6a2a" stroke-width="2"/><text x="515" y="56.0" font-size="10.8" fill="#0a6a2a" stroke="#0a6a2a" stroke-width="0.3">140 K</text>
<path d="M491.5,64.2H513" stroke="#000000" stroke-width="2"/><text x="515" y="68.10000000000001" font-size="10.8" fill="#000000" stroke="#000000" stroke-width="0.3">180 K</text>
<path d="M491.5,76.4H513" stroke="#f0128c" stroke-width="2"/><text x="515" y="80.30000000000001" font-size="10.8" fill="#f0128c" stroke="#f0128c" stroke-width="0.3">220 K</text>
<path d="M491.5,88.5H513" stroke="#38dcf8" stroke-width="2"/><text x="515" y="92.4" font-size="10.8" fill="#38dcf8" stroke="#38dcf8" stroke-width="0.3">260 K</text>
<path d="M491.5,101H513" stroke="#fff000" stroke-width="2"/><text x="515" y="104.9" font-size="10.8" fill="#fff000" stroke="#fff000" stroke-width="0.3">280 K</text>

<text transform="translate(445.2,36.6) scale(0.93,1)" font-size="23" font-weight="bold">(b)</text>
<!-- y labels -->
<g font-size="12.3">
<text transform="translate(429.6,13) scale(0.86,1)" text-anchor="end">2x10<tspan font-size="7.8" dy="-6.6">-5</tspan></text>
<text transform="translate(429.6,68) scale(0.86,1)" text-anchor="end">1x10<tspan font-size="7.8" dy="-6.6">-5</tspan></text>
<text transform="translate(429.6,123.8) scale(0.86,1)" text-anchor="end">0</text>
<text transform="translate(429.6,177.5) scale(0.86,1)" text-anchor="end">-1x10<tspan font-size="7.8" dy="-6.6">-5</tspan></text>
<text transform="translate(429.6,232.9) scale(0.86,1)" text-anchor="end">-2x10<tspan font-size="7.8" dy="-6.6">-5</tspan></text>
</g>
<text transform="translate(391.2,116.6) rotate(-90) scale(1.08,1)" font-size="13.4" text-anchor="middle">Current (A)</text>
<!-- x labels -->
<g font-size="12" text-anchor="middle">
<text transform="translate(463.3,245.2) scale(1.04,1)">-0.2</text>
<text transform="translate(515.2,245.2) scale(1.04,1)">-0.1</text>
<text transform="translate(568.1,245.2) scale(1.04,1)">0</text>
<text transform="translate(620,245.2) scale(1.04,1)">0.1</text>
<text transform="translate(672.6,245.2) scale(1.04,1)">0.2</text>
</g>
<text transform="translate(567.9,259.1) scale(1.08,1)" font-size="13.4" text-anchor="middle">Voltage (V)</text>
<!-- inset -->
<rect x="559.5" y="127.8" width="10.1" height="71.8" fill="#fff"/>
<rect x="569.6" y="121" width="128" height="108" fill="#fff"/>
<rect x="589.3" y="124.0" width="102.5" height="84.9" fill="#fff" stroke="#4646e2" stroke-width="0.9"/>
<path d="M592.1,208.9v-1.2M592.1,124.0v1.2" stroke="#4646e2" stroke-width="0.7"/><path d="M595.5,208.9v-1.2M595.5,124.0v1.2" stroke="#4646e2" stroke-width="0.7"/><path d="M599.0,208.9v-1.2M599.0,124.0v1.2" stroke="#4646e2" stroke-width="0.7"/><path d="M602.4,208.9v-1.2M602.4,124.0v1.2" stroke="#4646e2" stroke-width="0.7"/><path d="M605.8,208.9v-2.4M605.8,124.0v2.4" stroke="#4646e2" stroke-width="0.7"/><path d="M609.2,208.9v-1.2M609.2,124.0v1.2" stroke="#4646e2" stroke-width="0.7"/><path d="M612.6,208.9v-1.2M612.6,124.0v1.2" stroke="#4646e2" stroke-width="0.7"/><path d="M616.1,208.9v-1.2M616.1,124.0v1.2" stroke="#4646e2" stroke-width="0.7"/><path d="M619.5,208.9v-1.2M619.5,124.0v1.2" stroke="#4646e2" stroke-width="0.7"/><path d="M622.9,208.9v-2.4M622.9,124.0v2.4" stroke="#4646e2" stroke-width="0.7"/><path d="M626.3,208.9v-1.2M626.3,124.0v1.2" stroke="#4646e2" stroke-width="0.7"/><path d="M629.7,208.9v-1.2M629.7,124.0v1.2" stroke="#4646e2" stroke-width="0.7"/><path d="M633.2,208.9v-1.2M633.2,124.0v1.2" stroke="#4646e2" stroke-width="0.7"/><path d="M636.6,208.9v-1.2M636.6,124.0v1.2" stroke="#4646e2" stroke-width="0.7"/><path d="M640.0,208.9v-2.4M640.0,124.0v2.4" stroke="#4646e2" stroke-width="0.7"/><path d="M643.4,208.9v-1.2M643.4,124.0v1.2" stroke="#4646e2" stroke-width="0.7"/><path d="M646.8,208.9v-1.2M646.8,124.0v1.2" stroke="#4646e2" stroke-width="0.7"/><path d="M650.3,208.9v-1.2M650.3,124.0v1.2" stroke="#4646e2" stroke-width="0.7"/><path d="M653.7,208.9v-1.2M653.7,124.0v1.2" stroke="#4646e2" stroke-width="0.7"/><path d="M657.1,208.9v-2.4M657.1,124.0v2.4" stroke="#4646e2" stroke-width="0.7"/><path d="M660.5,208.9v-1.2M660.5,124.0v1.2" stroke="#4646e2" stroke-width="0.7"/><path d="M663.9,208.9v-1.2M663.9,124.0v1.2" stroke="#4646e2" stroke-width="0.7"/><path d="M667.4,208.9v-1.2M667.4,124.0v1.2" stroke="#4646e2" stroke-width="0.7"/><path d="M670.8,208.9v-1.2M670.8,124.0v1.2" stroke="#4646e2" stroke-width="0.7"/><path d="M674.2,208.9v-2.4M674.2,124.0v2.4" stroke="#4646e2" stroke-width="0.7"/><path d="M677.6,208.9v-1.2M677.6,124.0v1.2" stroke="#4646e2" stroke-width="0.7"/><path d="M681.0,208.9v-1.2M681.0,124.0v1.2" stroke="#4646e2" stroke-width="0.7"/><path d="M684.5,208.9v-1.2M684.5,124.0v1.2" stroke="#4646e2" stroke-width="0.7"/><path d="M687.9,208.9v-1.2M687.9,124.0v1.2" stroke="#4646e2" stroke-width="0.7"/><path d="M691.3,208.9v-2.4M691.3,124.0v2.4" stroke="#4646e2" stroke-width="0.7"/><path d="M589.3,208.9h2.4M691.8,208.9h-2.4" stroke="#4646e2" stroke-width="0.7"/><path d="M589.3,200.4h1.2M691.8,200.4h-1.2" stroke="#4646e2" stroke-width="0.7"/><path d="M589.3,191.9h2.4M691.8,191.9h-2.4" stroke="#4646e2" stroke-width="0.7"/><path d="M589.3,183.4h1.2M691.8,183.4h-1.2" stroke="#4646e2" stroke-width="0.7"/><path d="M589.3,174.9h2.4M691.8,174.9h-2.4" stroke="#4646e2" stroke-width="0.7"/><path d="M589.3,166.4h1.2M691.8,166.4h-1.2" stroke="#4646e2" stroke-width="0.7"/><path d="M589.3,158.0h2.4M691.8,158.0h-2.4" stroke="#4646e2" stroke-width="0.7"/><path d="M589.3,149.5h1.2M691.8,149.5h-1.2" stroke="#4646e2" stroke-width="0.7"/><path d="M589.3,141.0h2.4M691.8,141.0h-2.4" stroke="#4646e2" stroke-width="0.7"/><path d="M589.3,132.5h1.2M691.8,132.5h-1.2" stroke="#4646e2" stroke-width="0.7"/><path d="M589.3,124.0h2.4M691.8,124.0h-2.4" stroke="#4646e2" stroke-width="0.7"/>
<path d="M593.1,134.9 L596.0,135.7 L603.0,139.5 L609.6,144.0 L616.3,151.0 L623.0,158.8 L629.8,171.7 L636.5,178.5 L643.1,184.2 L649.8,191.5 L656.6,195.8 L663.4,198.5 L670.5,200.9 L677.2,202.6 L684.1,204.5 L691.1,206.1" fill="none" stroke="#e01414" stroke-width="0.8"/>
<circle cx="593.1" cy="134.9" r="1.9" fill="#e01414"/><circle cx="596.0" cy="135.7" r="1.9" fill="#e01414"/><circle cx="603.0" cy="139.5" r="1.9" fill="#e01414"/><circle cx="609.6" cy="144.0" r="1.9" fill="#e01414"/><circle cx="616.3" cy="151.0" r="1.9" fill="#e01414"/><circle cx="623.0" cy="158.8" r="1.9" fill="#e01414"/><circle cx="629.8" cy="171.7" r="1.9" fill="#e01414"/><circle cx="636.5" cy="178.5" r="1.9" fill="#e01414"/><circle cx="643.1" cy="184.2" r="1.9" fill="#e01414"/><circle cx="649.8" cy="191.5" r="1.9" fill="#e01414"/><circle cx="656.6" cy="195.8" r="1.9" fill="#e01414"/><circle cx="663.4" cy="198.5" r="1.9" fill="#e01414"/><circle cx="670.5" cy="200.9" r="1.9" fill="#e01414"/><circle cx="677.2" cy="202.6" r="1.9" fill="#e01414"/><circle cx="684.1" cy="204.5" r="1.9" fill="#e01414"/><circle cx="691.1" cy="206.1" r="1.9" fill="#e01414"/>
<g font-size="6.8" font-weight="bold"><text transform="translate(588.7,217.1) scale(0.78,1)" text-anchor="middle">0</text><text transform="translate(605.8,217.1) scale(0.78,1)" text-anchor="middle">50</text><text transform="translate(622.9,217.1) scale(0.78,1)" text-anchor="middle">100</text><text transform="translate(640.0,217.1) scale(0.78,1)" text-anchor="middle">150</text><text transform="translate(657.1,217.1) scale(0.78,1)" text-anchor="middle">200</text><text transform="translate(674.2,217.1) scale(0.78,1)" text-anchor="middle">250</text><text transform="translate(691.3,217.1) scale(0.78,1)" text-anchor="middle">300</text><text transform="translate(586.4,211.3) scale(0.8,1)" text-anchor="end">0</text><text transform="translate(586.4,194.3) scale(0.8,1)" text-anchor="end">2000</text><text transform="translate(586.4,177.3) scale(0.8,1)" text-anchor="end">4000</text><text transform="translate(586.4,160.4) scale(0.8,1)" text-anchor="end">6000</text><text transform="translate(586.4,143.4) scale(0.8,1)" text-anchor="end">8000</text><text transform="translate(586.4,126.4) scale(0.8,1)" text-anchor="end">10000</text></g>
<text x="641.7" y="226.7" font-size="9" font-weight="bold" text-anchor="middle">Temperature (K)</text>
<text transform="translate(567.5,197.7) rotate(-90)" font-size="8.5" font-weight="bold"><tspan font-style="italic">R</tspan>x<tspan font-style="italic">A</tspan> (MOhm.µm<tspan font-size="6" dy="-3.6">2</tspan><tspan dy="3.6">)</tspan></text>
</g>
</svg>
</body></html>
